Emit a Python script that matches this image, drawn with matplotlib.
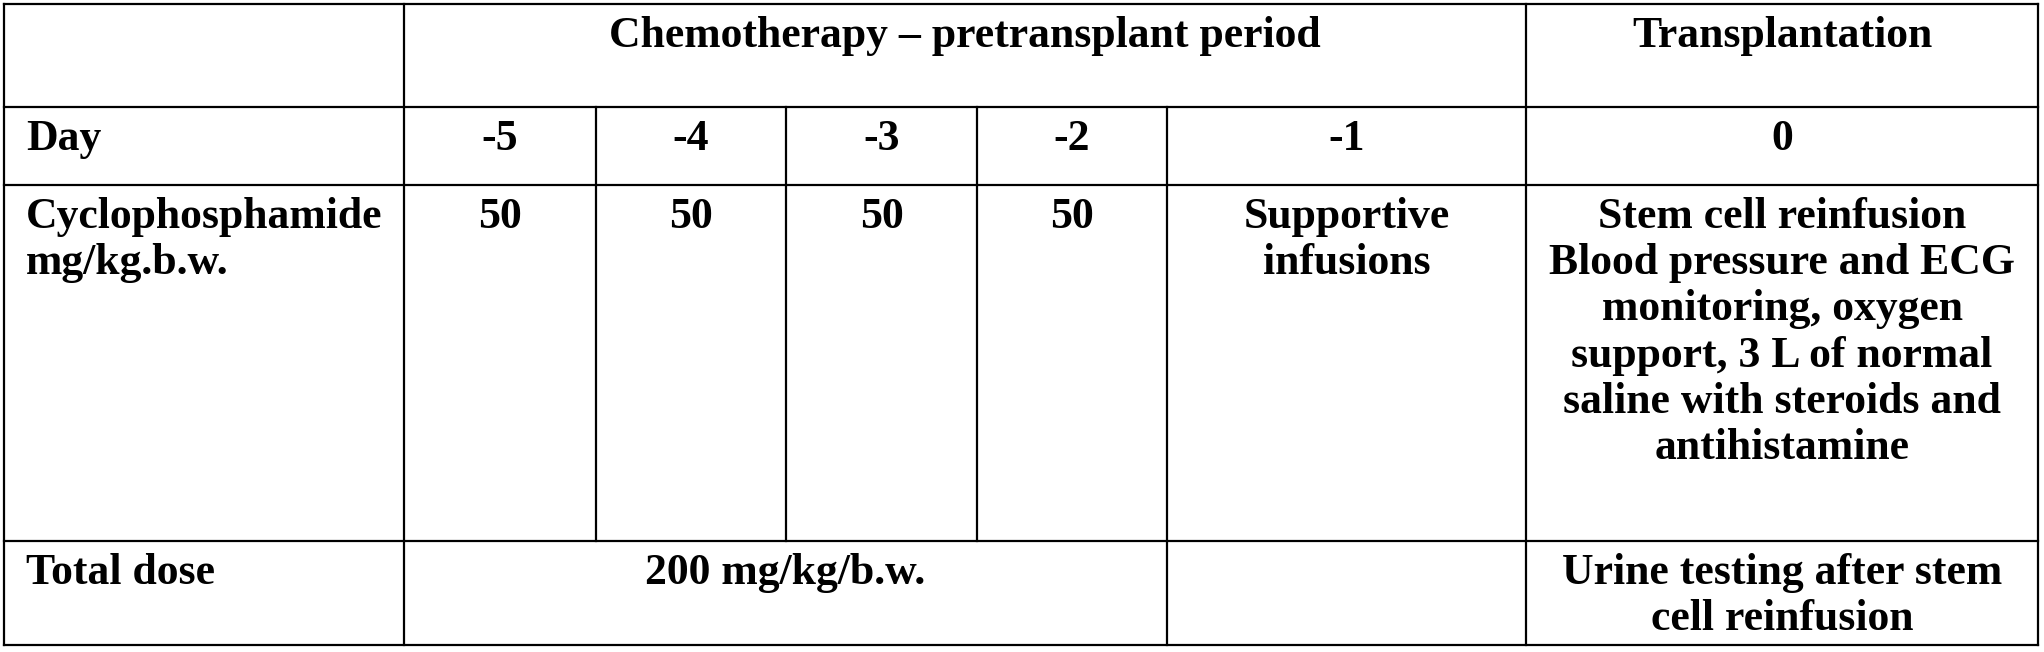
import matplotlib
matplotlib.use("Agg")
import matplotlib.pyplot as plt

headers = ["Chemotherapy – pretransplant period", "Transplantation"]
days = ["Day", "-5", "-4", "-3", "-2", "-1", "0"]
cyclo = ["Cyclophosphamide\nmg/kg.b.w.", "50", "50", "50", "50", "Supportive\ninfusions",
         "Stem cell reinfusion\nBlood pressure and ECG\nmonitoring, oxygen\nsupport, 3 L of normal\nsaline with steroids and\nantihistamine"]
total = ["Total dose", "200 mg/kg/b.w.", "", "Urine testing after stem\ncell reinfusion"]

W, H = 2044, 652
xs = [4, 404, 596, 786, 977, 1167, 1526, 2038]
ys = [4, 107, 185, 541, 645]

fig = plt.figure(figsize=(W/100, H/100), dpi=100)
ax = fig.add_axes([0, 0, 1, 1])
ax.set_xlim(0, W); ax.set_ylim(H, 0); ax.axis("off")
lw = 1.6
for y in ys:
    ax.plot([xs[0], xs[-1]], [y, y], color="black", lw=lw)
for x in [xs[0], xs[1], xs[6], xs[7]]:
    ax.plot([x, x], [ys[0], ys[4]], color="black", lw=lw)
for x in xs[2:5]:
    ax.plot([x, x], [ys[1], ys[3]], color="black", lw=lw)
ax.plot([xs[5], xs[5]], [ys[1], ys[4]], color="black", lw=lw)

kw = dict(fontfamily="Liberation Serif", fontweight="bold", fontsize=31.5, va="top", linespacing=1.2)
pad = 12
ax.text((xs[1]+xs[6])/2, ys[0]+pad, headers[0], ha="center", **kw)
ax.text((xs[6]+xs[7])/2, ys[0]+pad, headers[1], ha="center", **kw)
for i, t in enumerate(days):
    if i == 0:
        ax.text(xs[0]+22, ys[1]+pad, t, ha="left", **kw)
    else:
        ax.text((xs[i]+xs[i+1])/2, ys[1]+pad, t, ha="center", **kw)
for i, t in enumerate(cyclo):
    if i == 0:
        ax.text(xs[0]+22, ys[2]+pad, t, ha="left", **kw)
    else:
        ax.text((xs[i]+xs[i+1])/2, ys[2]+pad, t, ha="center", **kw)
ax.text(xs[0]+22, ys[3]+pad, total[0], ha="left", **kw)
ax.text((xs[1]+xs[5])/2, ys[3]+pad, total[1], ha="center", **kw)
ax.text((xs[6]+xs[7])/2, ys[3]+pad, total[3], ha="center", **kw)
fig.savefig("out.png", dpi=100)
